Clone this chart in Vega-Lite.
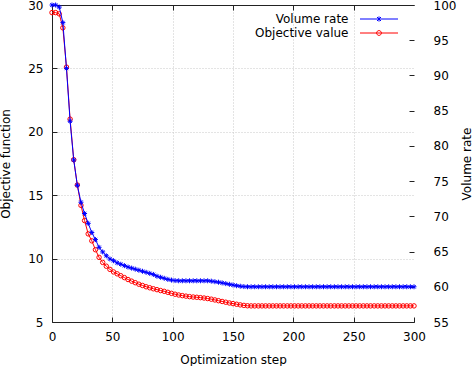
{
  "$schema": "https://vega.github.io/schema/vega-lite/v6.json",
  "width": 362,
  "height": 317,
  "autosize": {"type": "none"},
  "padding": {"left": 52, "top": 5, "right": 60, "bottom": 44},
  "background": "white",
  "config": {
    "font": "DejaVu Sans",
    "view": {"stroke": null},
    "axis": {
      "labelFont": "DejaVu Sans", "labelFontSize": 12, "labelColor": "#000",
      "titleFont": "DejaVu Sans", "titleFontSize": 12, "titleFontWeight": "normal", "titleColor": "#000",
      "domainColor": "#222", "tickColor": "#222", "gridColor": "#c8c8c8", "gridDash": [1, 2], "gridOpacity": 1,
      "tickSize": -5, "labelFlush": false, "labelOverlap": false
    },
    "legend": {
      "orient": "none", "legendX": 321, "legendY": 8, "padding": 0,
      "labelAlign": "right", "labelOffset": -36.5, "rowPadding": 2,
      "labelFont": "DejaVu Sans", "labelFontSize": 12, "labelColor": "#000",
      "symbolSize": 64, "symbolStrokeWidth": 1
    }
  },
  "datasets": {
    "main": [
      {"step": 0, "obj": 29.4, "vol": 100},
      {"step": 3, "obj": 29.4, "vol": 100},
      {"step": 6, "obj": 29.3, "vol": 99.7},
      {"step": 9, "obj": 28.2, "vol": 97.5},
      {"step": 12, "obj": 25.1, "vol": 91.0},
      {"step": 15, "obj": 21.0, "vol": 83.5},
      {"step": 18, "obj": 17.8, "vol": 78.0},
      {"step": 21, "obj": 15.8, "vol": 74.4},
      {"step": 24, "obj": 14.2, "vol": 72.0},
      {"step": 27, "obj": 13.0, "vol": 70.4},
      {"step": 30, "obj": 11.95, "vol": 69.0},
      {"step": 33, "obj": 11.4, "vol": 67.7},
      {"step": 36, "obj": 10.7, "vol": 66.7},
      {"step": 39, "obj": 10.1, "vol": 65.6},
      {"step": 42, "obj": 9.7, "vol": 64.95},
      {"step": 45, "obj": 9.4, "vol": 64.4},
      {"step": 48, "obj": 9.15, "vol": 63.95},
      {"step": 51, "obj": 8.95, "vol": 63.7},
      {"step": 54, "obj": 8.8, "vol": 63.4},
      {"step": 57, "obj": 8.65, "vol": 63.2},
      {"step": 60, "obj": 8.5, "vol": 63.0},
      {"step": 63, "obj": 8.35, "vol": 62.8},
      {"step": 66, "obj": 8.22, "vol": 62.65},
      {"step": 69, "obj": 8.1, "vol": 62.5},
      {"step": 72, "obj": 7.98, "vol": 62.35},
      {"step": 75, "obj": 7.88, "vol": 62.2},
      {"step": 78, "obj": 7.78, "vol": 62.05},
      {"step": 81, "obj": 7.7, "vol": 61.9},
      {"step": 84, "obj": 7.62, "vol": 61.75},
      {"step": 87, "obj": 7.55, "vol": 61.5},
      {"step": 90, "obj": 7.48, "vol": 61.35},
      {"step": 93, "obj": 7.42, "vol": 61.2},
      {"step": 96, "obj": 7.34, "vol": 61.05},
      {"step": 99, "obj": 7.26, "vol": 60.95},
      {"step": 102, "obj": 7.19, "vol": 60.88},
      {"step": 105, "obj": 7.13, "vol": 60.85},
      {"step": 108, "obj": 7.08, "vol": 60.85},
      {"step": 111, "obj": 7.04, "vol": 60.85},
      {"step": 114, "obj": 7.0, "vol": 60.85},
      {"step": 117, "obj": 6.97, "vol": 60.85},
      {"step": 120, "obj": 6.95, "vol": 60.85},
      {"step": 123, "obj": 6.92, "vol": 60.85},
      {"step": 126, "obj": 6.89, "vol": 60.85},
      {"step": 129, "obj": 6.85, "vol": 60.85},
      {"step": 132, "obj": 6.8, "vol": 60.8},
      {"step": 135, "obj": 6.74, "vol": 60.72},
      {"step": 138, "obj": 6.68, "vol": 60.65},
      {"step": 141, "obj": 6.62, "vol": 60.55},
      {"step": 144, "obj": 6.56, "vol": 60.45},
      {"step": 147, "obj": 6.5, "vol": 60.35},
      {"step": 150, "obj": 6.45, "vol": 60.25},
      {"step": 153, "obj": 6.4, "vol": 60.15},
      {"step": 156, "obj": 6.35, "vol": 60.08},
      {"step": 159, "obj": 6.31, "vol": 60.03},
      {"step": 162, "obj": 6.28, "vol": 60.0},
      {"step": 165, "obj": 6.27, "vol": 60.0},
      {"step": 168, "obj": 6.27, "vol": 60.0},
      {"step": 171, "obj": 6.27, "vol": 60.0},
      {"step": 174, "obj": 6.27, "vol": 60.0},
      {"step": 177, "obj": 6.27, "vol": 60.0},
      {"step": 180, "obj": 6.27, "vol": 60.0},
      {"step": 183, "obj": 6.27, "vol": 60.0},
      {"step": 186, "obj": 6.27, "vol": 60.0},
      {"step": 189, "obj": 6.27, "vol": 60.0},
      {"step": 192, "obj": 6.27, "vol": 60.0},
      {"step": 195, "obj": 6.27, "vol": 60.0},
      {"step": 198, "obj": 6.27, "vol": 60.0},
      {"step": 201, "obj": 6.27, "vol": 60.0},
      {"step": 204, "obj": 6.27, "vol": 60.0},
      {"step": 207, "obj": 6.27, "vol": 60.0},
      {"step": 210, "obj": 6.27, "vol": 60.0},
      {"step": 213, "obj": 6.27, "vol": 60.0},
      {"step": 216, "obj": 6.27, "vol": 60.0},
      {"step": 219, "obj": 6.27, "vol": 60.0},
      {"step": 222, "obj": 6.27, "vol": 60.0},
      {"step": 225, "obj": 6.27, "vol": 60.0},
      {"step": 228, "obj": 6.27, "vol": 60.0},
      {"step": 231, "obj": 6.27, "vol": 60.0},
      {"step": 234, "obj": 6.27, "vol": 60.0},
      {"step": 237, "obj": 6.27, "vol": 60.0},
      {"step": 240, "obj": 6.27, "vol": 60.0},
      {"step": 243, "obj": 6.27, "vol": 60.0},
      {"step": 246, "obj": 6.27, "vol": 60.0},
      {"step": 249, "obj": 6.27, "vol": 60.0},
      {"step": 252, "obj": 6.27, "vol": 60.0},
      {"step": 255, "obj": 6.27, "vol": 60.0},
      {"step": 258, "obj": 6.27, "vol": 60.0},
      {"step": 261, "obj": 6.27, "vol": 60.0},
      {"step": 264, "obj": 6.27, "vol": 60.0},
      {"step": 267, "obj": 6.27, "vol": 60.0},
      {"step": 270, "obj": 6.27, "vol": 60.0},
      {"step": 273, "obj": 6.27, "vol": 60.0},
      {"step": 276, "obj": 6.27, "vol": 60.0},
      {"step": 279, "obj": 6.27, "vol": 60.0},
      {"step": 282, "obj": 6.27, "vol": 60.0},
      {"step": 285, "obj": 6.27, "vol": 60.0},
      {"step": 288, "obj": 6.27, "vol": 60.0},
      {"step": 291, "obj": 6.27, "vol": 60.0},
      {"step": 294, "obj": 6.27, "vol": 60.0},
      {"step": 297, "obj": 6.27, "vol": 60.0},
      {"step": 300, "obj": 6.27, "vol": 60.0}
    ],
    "legend": [
      {"series": "Volume rate"},
      {"series": "Objective value"}
    ]
  },
  "layer": [
    {
      "data": {"name": "main"},
      "encoding": {
        "x": {
          "field": "step", "type": "quantitative", "scale": {"domain": [0, 300]},
          "axis": {"orient": "bottom", "values": [0, 50, 100, 150, 200, 250, 300], "grid": false,
                   "title": "Optimization step", "labelPadding": 14,
                   "titleX": 181, "titleY": 41, "titleBaseline": "alphabetic"}
        },
        "y": {
          "field": "obj", "type": "quantitative", "scale": {"domain": [5, 30]},
          "axis": {"orient": "left", "values": [5, 10, 15, 20, 25, 30], "grid": true,
                   "title": "Objective function", "labelPadding": 14,
                   "titleX": -42.5, "titleY": 158.5, "titleAngle": 270, "titleBaseline": "alphabetic"}
        }
      },
      "layer": [
        {"mark": {"type": "line", "color": "#ff0000", "strokeWidth": 1}},
        {"mark": {"type": "point", "shape": "circle", "filled": false, "color": "#ff0000", "size": 20, "strokeWidth": 1, "opacity": 1}}
      ]
    },
    {
      "data": {"name": "main"},
      "encoding": {
        "x": {
          "field": "step", "type": "quantitative", "scale": {"domain": [0, 300]},
          "axis": {"orient": "top", "values": [50, 100, 150, 200, 250], "labels": false, "grid": true, "title": null, "domain": true}
        },
        "y": {
          "field": "vol", "type": "quantitative", "scale": {"domain": [55, 100]},
          "axis": {"orient": "right", "values": [55, 60, 65, 70, 75, 80, 85, 90, 95, 100], "domain": false, "grid": false,
                   "title": "Volume rate", "labelPadding": 24,
                   "titleX": 56.5, "titleY": 158.5, "titleAngle": 270, "titleBaseline": "alphabetic"}
        }
      },
      "layer": [
        {"mark": {"type": "line", "color": "#0000ff", "strokeWidth": 1}},
        {"mark": {"type": "point", "shape": "M-1,0L1,0M0,-1L0,1M-0.7,-0.7L0.7,0.7M-0.7,0.7L0.7,-0.7", "filled": false, "color": "#0000ff", "size": 25, "strokeWidth": 1, "opacity": 1}},
        {
          "data": {"name": "legend"},
          "transform": [{"filter": "false"}],
          "mark": {"type": "point", "filled": false, "size": 64, "strokeWidth": 1, "opacity": 1},
          "encoding": {
            "color": {"field": "series", "type": "nominal",
                      "scale": {"domain": ["Volume rate", "Objective value"], "range": ["#0000ff", "#ff0000"]},
                      "legend": {"title": null}},
            "shape": {"field": "series", "type": "nominal",
                      "scale": {"domain": ["Volume rate", "Objective value"],
                                "range": ["M-4.75,0L4.75,0M-0.5,-0.5L0.5,0.5M-0.5,0.5L0.5,-0.5M0,-0.65L0,0.65",
                                          "M-4.75,0L4.75,0M0.6,0A0.6,0.6,0,1,1,-0.6,0A0.6,0.6,0,1,1,0.6,0"]},
                      "legend": {"title": null}}
          }
        }
      ]
    }
  ],
  "resolve": {"scale": {"y": "independent"}, "axis": {"x": "independent", "y": "independent"}}
}
